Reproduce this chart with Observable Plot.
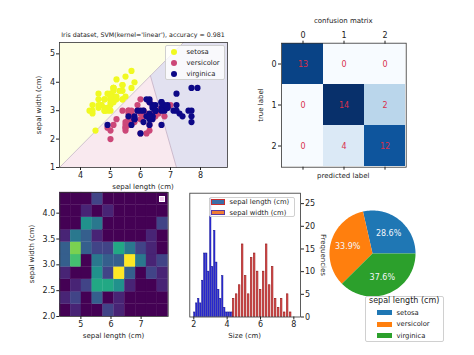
<!DOCTYPE html>
<html><head><meta charset="utf-8">
<script src="https://cdn.jsdelivr.net/npm/d3@7"></script>
<script src="https://cdn.jsdelivr.net/npm/@observablehq/plot@0.6"></script>
<style>
body{margin:0;background:#fff;}
#fig{position:relative;width:474px;height:355px;overflow:hidden;font-family:"DejaVu Sans",sans-serif;color:#222;background:#fff;}
.abs{position:absolute;white-space:nowrap;line-height:1;}
.box{position:absolute;border:1px solid #d0d0d0;border-radius:2px;background:rgba(255,255,255,0.8);box-sizing:border-box;}
</style></head><body><div id="fig"></div><script>
// ---------------- data ----------------
const species = ["setosa", "versicolor", "virginica"];
const speciesCounts = [50, 50, 50];
const sepalLength = [
5.1,4.9,4.7,4.6,5.0,5.4,4.6,5.0,4.4,4.9,5.4,4.8,4.8,4.3,5.8,5.7,5.4,5.1,5.7,5.1,5.4,5.1,4.6,5.1,4.8,5.0,5.0,5.2,5.2,4.7,4.8,5.4,5.2,5.5,4.9,5.0,5.5,4.9,4.4,5.1,5.0,4.5,4.4,5.0,5.1,4.8,5.1,4.6,5.3,5.0,
7.0,6.4,6.9,5.5,6.5,5.7,6.3,4.9,6.6,5.2,5.0,5.9,6.0,6.1,5.6,6.7,5.6,5.8,6.2,5.6,5.9,6.1,6.3,6.1,6.4,6.6,6.8,6.7,6.0,5.7,5.5,5.5,5.8,6.0,5.4,6.0,6.7,6.3,5.6,5.5,5.5,6.1,5.8,5.0,5.6,5.7,5.7,6.2,5.1,5.7,
6.3,5.8,7.1,6.3,6.5,7.6,4.9,7.3,6.7,7.2,6.5,6.4,6.8,5.7,5.8,6.4,6.5,7.7,7.7,6.0,6.9,5.6,7.7,6.3,6.7,7.2,6.2,6.1,6.4,7.2,7.4,7.9,6.4,6.3,6.1,7.7,6.3,6.4,6.0,6.9,6.7,6.9,5.8,6.8,6.7,6.7,6.3,6.5,6.2,5.9];
const sepalWidth = [
3.5,3.0,3.2,3.1,3.6,3.9,3.4,3.4,2.9,3.1,3.7,3.4,3.0,3.0,4.0,4.4,3.9,3.5,3.8,3.8,3.4,3.7,3.6,3.3,3.4,3.0,3.4,3.5,3.4,3.2,3.1,3.4,4.1,4.2,3.1,3.2,3.5,3.6,3.0,3.4,3.5,2.3,3.2,3.5,3.8,3.0,3.8,3.2,3.7,3.3,
3.2,3.2,3.1,2.3,2.8,2.8,3.3,2.4,2.9,2.7,2.0,3.0,2.2,2.9,2.9,3.1,3.0,2.7,2.2,2.5,3.2,2.8,2.5,2.8,2.9,3.0,2.8,3.0,2.9,2.6,2.4,2.4,2.7,2.7,3.0,3.4,3.1,2.3,3.0,2.5,2.6,3.0,2.6,2.3,2.7,3.0,2.9,2.9,2.5,2.8,
3.3,2.7,3.0,2.9,3.0,3.0,2.5,2.9,2.5,3.6,3.2,2.7,3.0,2.5,2.8,3.2,3.0,3.8,2.6,2.2,3.2,2.8,2.8,2.7,3.3,3.2,2.8,3.0,2.8,3.0,2.8,3.8,2.8,2.8,2.6,3.0,3.4,3.1,3.0,3.1,3.1,3.1,2.7,3.2,3.3,3.0,2.5,3.0,3.4,3.0];
const speciesColors = ["#f0f921", "#cc4778", "#0d0887"];
const pieColors = ["#1f77b4", "#ff7f0e", "#2ca02c"];

// decision boundaries (sepal length, sepal width)
const boundarySetosa = [[3.3, 1.0], [7.43, 5.4]];
const boundaryVersicolorVirginica = [[6.33, 4.23], [7.2, 1.0]];
const scatterXTicks = [4, 5, 6, 7, 8];
const scatterYTicks = [1, 2, 3, 4, 5];

const cmLabels = [0, 1, 2];
const confusion = [[13, 0, 0], [0, 14, 2], [0, 4, 12]];

const hist2dBins = 10;
const hist2dXTicks = [5, 6, 7];
const hist2dYTicks = [2.0, 2.5, 3.0, 3.5, 4.0];

const histBins = 20;
const histXDomain = [1.76, 8.4];
const histXTicks = [2, 4, 6, 8];
const histYTicks = [0, 5, 10, 15, 20, 25];

// ---------------- helpers ----------------
const fig = document.getElementById("fig");
const FONT = '"DejaVu Sans", sans-serif';
const STYLE = {fontFamily: FONT, fontSize: "7.5px", color: "#222", background: "transparent", overflow: "visible"};
const intFmt = d3.format("d");
function place(svg, left, top) {
  svg.style.position = "absolute"; svg.style.left = left + "px"; svg.style.top = top + "px";
  svg.style.maxWidth = "none"; fig.appendChild(svg);
}
function txt(text, x, y, o = {}) {
  const d = document.createElement("div");
  d.className = "abs"; d.textContent = text;
  d.style.fontSize = (o.size ?? 7) + "px";
  d.style.left = x + "px"; d.style.top = y + "px";
  if (o.color) d.style.color = o.color;
  const tx = o.anchor === "start" ? "0" : "-50%";
  d.style.transform = `translate(${tx},-50%)` + (o.rotate ? ` rotate(${o.rotate}deg)` : "");
  fig.appendChild(d); return d;
}
function box(x, y, w, h) {
  const d = document.createElement("div"); d.className = "box";
  Object.assign(d.style, {left: x + "px", top: y + "px", width: w + "px", height: h + "px"});
  fig.appendChild(d); return d;
}
function swatch(x, y, w, h, fill, border, radius) {
  const d = document.createElement("div"); d.className = "abs";
  Object.assign(d.style, {left: x + "px", top: y + "px", width: w + "px", height: h + "px", background: fill,
    border: border || "none", borderRadius: radius || "0", boxSizing: "border-box"});
  fig.appendChild(d); return d;
}
function binIndex(v, min, max, n) {
  const step = (max - min) / n;
  let i = Math.floor((v - min) / step);
  i = Math.max(0, Math.min(n - 1, i));
  if (v < min + i * step && i > 0) i--;
  else if (i < n - 1 && v >= min + (i + 1) * step) i++;
  return i;
}
function histogram(values, n) {
  const min = d3.min(values), max = d3.max(values), step = (max - min) / n;
  const counts = new Array(n).fill(0);
  values.forEach(v => counts[binIndex(v, min, max, n)]++);
  return counts.map((c, i) => ({x0: min + i * step, x1: min + (i + 1) * step, count: c}));
}

const target = speciesCounts.flatMap((c, k) => new Array(c).fill(k));
const points = sepalLength.map((x, i) => ({x, y: sepalWidth[i], k: target[i]}));

// ---------------- panel 1: scatter with decision regions ----------------
{
  const xDom = [d3.min(sepalLength) - 1, d3.max(sepalLength) + 1];
  const yDom = [d3.min(sepalWidth) - 1, d3.max(sepalWidth) + 1];
  const [p0, p1] = boundarySetosa, [q0, q1] = boundaryVersicolorVirginica;
  const regions = [
    [p0, p1, [xDom[0], yDom[1]]],
    [p0, q0, q1],
    [q0, p1, [xDom[1], yDom[1]], [xDom[1], yDom[0]], q1]
  ];
  const svg = Plot.plot({
    width: 240, height: 200, marginLeft: 59, marginRight: 13, marginTop: 42, marginBottom: 33,
    style: STYLE,
    x: {domain: xDom, label: null}, y: {domain: yDom, label: null},
    marks: [
      ...regions.map((r, k) => Plot.line(r, {x: d => d[0], y: d => d[1], curve: "linear-closed",
        fill: speciesColors[k], fillOpacity: 0.12, stroke: "none"})),
      Plot.line(boundarySetosa, {x: d => d[0], y: d => d[1], stroke: "#c4b6c6", strokeWidth: 0.8}),
      Plot.line(boundaryVersicolorVirginica, {x: d => d[0], y: d => d[1], stroke: "#c4b0c4", strokeWidth: 0.8}),
      ...species.map((s, k) => Plot.dot(points.filter(p => p.k === k), {x: "x", y: "y", r: 3.1, fill: speciesColors[k], stroke: "none"})),
      Plot.frame({stroke: "#333", strokeWidth: 0.8}),
      Plot.axisX({ticks: scatterXTicks, tickFormat: intFmt, tickSize: 3, tickPadding: 1.5, label: null, fontSize: 8}),
      Plot.axisY({ticks: scatterYTicks, tickFormat: intFmt, tickSize: 3, tickPadding: 1.5, label: null, fontSize: 8})
    ]
  });
  place(svg, 0, 0);
  txt("Iris dataset, SVM(kernel='linear'), accuracy = 0.981", 143, 35, {size: 6.3});
  txt("sepal length (cm)", 143, 186.5, {size: 7});
  txt("sepal width (cm)", 39, 104.5, {size: 7, rotate: -90});
  box(165, 45, 60, 35);
  species.forEach((s, k) => {
    swatch(171, 48.8 + k * 11.2, 6.2, 6.2, speciesColors[k], "none", "50%");
    txt(s, 186.5, 51.9 + k * 11.2, {size: 6.8, anchor: "start"});
  });
}

// ---------------- panel 2: confusion matrix ----------------
{
  const cells = cmLabels.flatMap(r => cmLabels.map(c => ({row: r, col: c, value: confusion[r][c], shade: confusion[c][r]})));
  const maxV = d3.max(cells, d => d.shade);
  const svg = Plot.plot({
    width: 234, height: 190, marginLeft: 41, marginRight: 68.3, marginTop: 42.7, marginBottom: 23.3,
    style: {...STYLE, fontSize: "8px"},
    x: {type: "band", domain: cmLabels, padding: 0, label: null},
    y: {type: "band", domain: cmLabels, padding: 0, label: null},
    color: {type: "linear", scheme: "blues", domain: [0, maxV]},
    marks: [
      Plot.cell(cells, {x: "col", y: "row", fill: "shade"}),
      Plot.text(cells, {x: "col", y: "row", text: d => String(d.value), fill: "#d8304c", fontSize: 8}),
      Plot.frame({stroke: "#333", strokeWidth: 0.8}),
      Plot.axisX({anchor: "top", tickSize: 3, tickPadding: 2, label: null}),
      Plot.axisX({anchor: "bottom", tickSize: 3, tickFormat: () => "", label: null}),
      Plot.axisY({anchor: "left", tickSize: 3, tickPadding: 2, label: null})
    ]
  });
  place(svg, 240, 0);
  txt("confusion matrix", 343.3, 21, {size: 7});
  txt("predicted label", 343.3, 175.7, {size: 7});
  txt("true label", 261, 105, {size: 7, rotate: -90});
}

// ---------------- panel 3: 2D histogram ----------------
{
  const xMin = d3.min(sepalLength), xMax = d3.max(sepalLength);
  const yMin = d3.min(sepalWidth), yMax = d3.max(sepalWidth);
  const sx = (xMax - xMin) / hist2dBins, sy = (yMax - yMin) / hist2dBins;
  const grid = d3.range(hist2dBins).flatMap(i => d3.range(hist2dBins).map(j => ({i, j, count: 0})));
  points.forEach(p => {
    const i = binIndex(p.x, xMin, xMax, hist2dBins), j = binIndex(p.y, yMin, yMax, hist2dBins);
    grid[i * hist2dBins + j].count++;
  });
  const cells = grid.map(g => ({...g, x1: xMin + g.i * sx, x2: xMin + (g.i + 1) * sx, y1: yMin + g.j * sy, y2: yMin + (g.j + 1) * sy}));
  const svg = Plot.plot({
    width: 190, height: 175, marginLeft: 59.3, marginRight: 22.3, marginTop: 12, marginBottom: 39,
    style: STYLE,
    x: {domain: [xMin, xMax], label: null}, y: {domain: [yMin, yMax], label: null},
    color: {type: "linear", scheme: "viridis", domain: [0, d3.max(cells, d => d.count)]},
    marks: [
      Plot.rect(cells, {x1: "x1", x2: "x2", y1: "y1", y2: "y2", fill: "count", stroke: "count", strokeWidth: 0.3}),
      Plot.frame({stroke: "#333", strokeWidth: 0.8}),
      Plot.axisX({ticks: hist2dXTicks, tickFormat: intFmt, tickSize: 3, tickPadding: 1.5, label: null, fontSize: 8}),
      Plot.axisY({ticks: hist2dYTicks, tickFormat: d3.format(".1f"), tickSize: 3, tickPadding: 1.5, label: null, fontSize: 8})
    ]
  });
  place(svg, 0, 180);
  txt("sepal length (cm)", 113.5, 335.7, {size: 7});
  txt("sepal width (cm)", 32.3, 254, {size: 7, rotate: -90});
  swatch(159, 196, 6, 6, "#f2c8ee", "1px solid #fff");
}

// ---------------- panel 4: histograms ----------------
{
  const hWidth = histogram(sepalWidth, histBins);
  const hLength = histogram(sepalLength, histBins);
  const yMax = d3.max([...hWidth, ...hLength], d => d.count) * 1.05;
  const svg = Plot.plot({
    width: 150, height: 175, marginLeft: 9.3, marginRight: 30, marginTop: 12.7, marginBottom: 38.5,
    style: STYLE,
    x: {domain: histXDomain, label: null}, y: {domain: [0, yMax], label: null},
    marks: [
      Plot.rect(hWidth, {x1: "x0", x2: "x1", y1: 0, y2: "count", insetLeft: 0.35, insetRight: 0.35,
        fill: "#2a2ae6", stroke: "#10108a", strokeWidth: 0.5}),
      Plot.rect(hLength, {x1: "x0", x2: "x1", y1: 0, y2: "count", insetLeft: 0.7, insetRight: 0.7,
        fill: "#e25656", stroke: "#8a0c0c", strokeWidth: 0.55}),
      Plot.frame({stroke: "#333", strokeWidth: 0.8}),
      Plot.axisX({ticks: histXTicks, tickFormat: intFmt, tickSize: 3, tickPadding: 1.5, label: null, fontSize: 8}),
      Plot.axisY({anchor: "right", ticks: histYTicks, tickFormat: intFmt, tickSize: 3, tickPadding: 1.5, label: null, fontSize: 8})
    ]
  });
  place(svg, 180, 180);
  txt("Size (cm)", 244.7, 335.7, {size: 7});
  txt("Frequencies", 321.7, 254.5, {size: 7, rotate: 90});
  box(208.5, 196.5, 86.5, 20.5);
  swatch(211, 199, 14, 5.5, "#3b6ea8", "0.8px solid #c83030");
  txt("sepal length (cm)", 229.5, 201.8, {size: 6.8, anchor: "start"});
  swatch(211, 209.8, 14, 5.5, "#f07d35", "0.8px solid #5a3aa0");
  txt("sepal width (cm)", 229.5, 212.6, {size: 6.8, anchor: "start"});
}

// ---------------- panel 5: pie ----------------
{
  const values = species.map((s, k) => d3.sum(sepalLength.filter((v, i) => target[i] === k)));
  const total = d3.sum(values);
  const R = 43, S = 112, D = (S / 2) / R;
  let a = 0;
  const slices = [], labels = [];
  values.forEach((v, k) => {
    const a0 = a, a1 = a + 2 * Math.PI * v / total;
    const n = Math.max(2, Math.ceil((a1 - a0) / (Math.PI / 90)));
    const pts = [[0, 0]];
    for (let s = 0; s <= n; s++) { const t = a0 + (a1 - a0) * s / n; pts.push([Math.cos(t), Math.sin(t)]); }
    slices.push(pts);
    const m = (a0 + a1) / 2;
    labels.push({x: 0.6 * Math.cos(m), y: 0.6 * Math.sin(m), text: (100 * v / total).toFixed(1) + "%"});
    a = a1;
  });
  const svg = Plot.plot({
    width: S, height: S, margin: 0, style: STYLE,
    x: {domain: [-D, D], axis: null}, y: {domain: [-D, D], axis: null},
    marks: [
      ...slices.map((p, k) => Plot.line(p, {x: d => d[0], y: d => d[1], curve: "linear-closed", fill: pieColors[k], stroke: "none"})),
      Plot.text(labels, {x: "x", y: "y", text: "text", fill: "#f4f6fa", fontSize: 8})
    ]
  });
  place(svg, 372 - S / 2, 252.5 - S / 2);
  box(365, 296, 78.5, 46);
  txt("sepal length (cm)", 404.2, 301, {size: 8});
  species.forEach((s, k) => {
    swatch(377, 310.3 + k * 11.3, 14.5, 5.2, pieColors[k]);
    txt(s, 396.5, 313 + k * 11.3, {size: 6.8, anchor: "start"});
  });
}
</script></body></html>
